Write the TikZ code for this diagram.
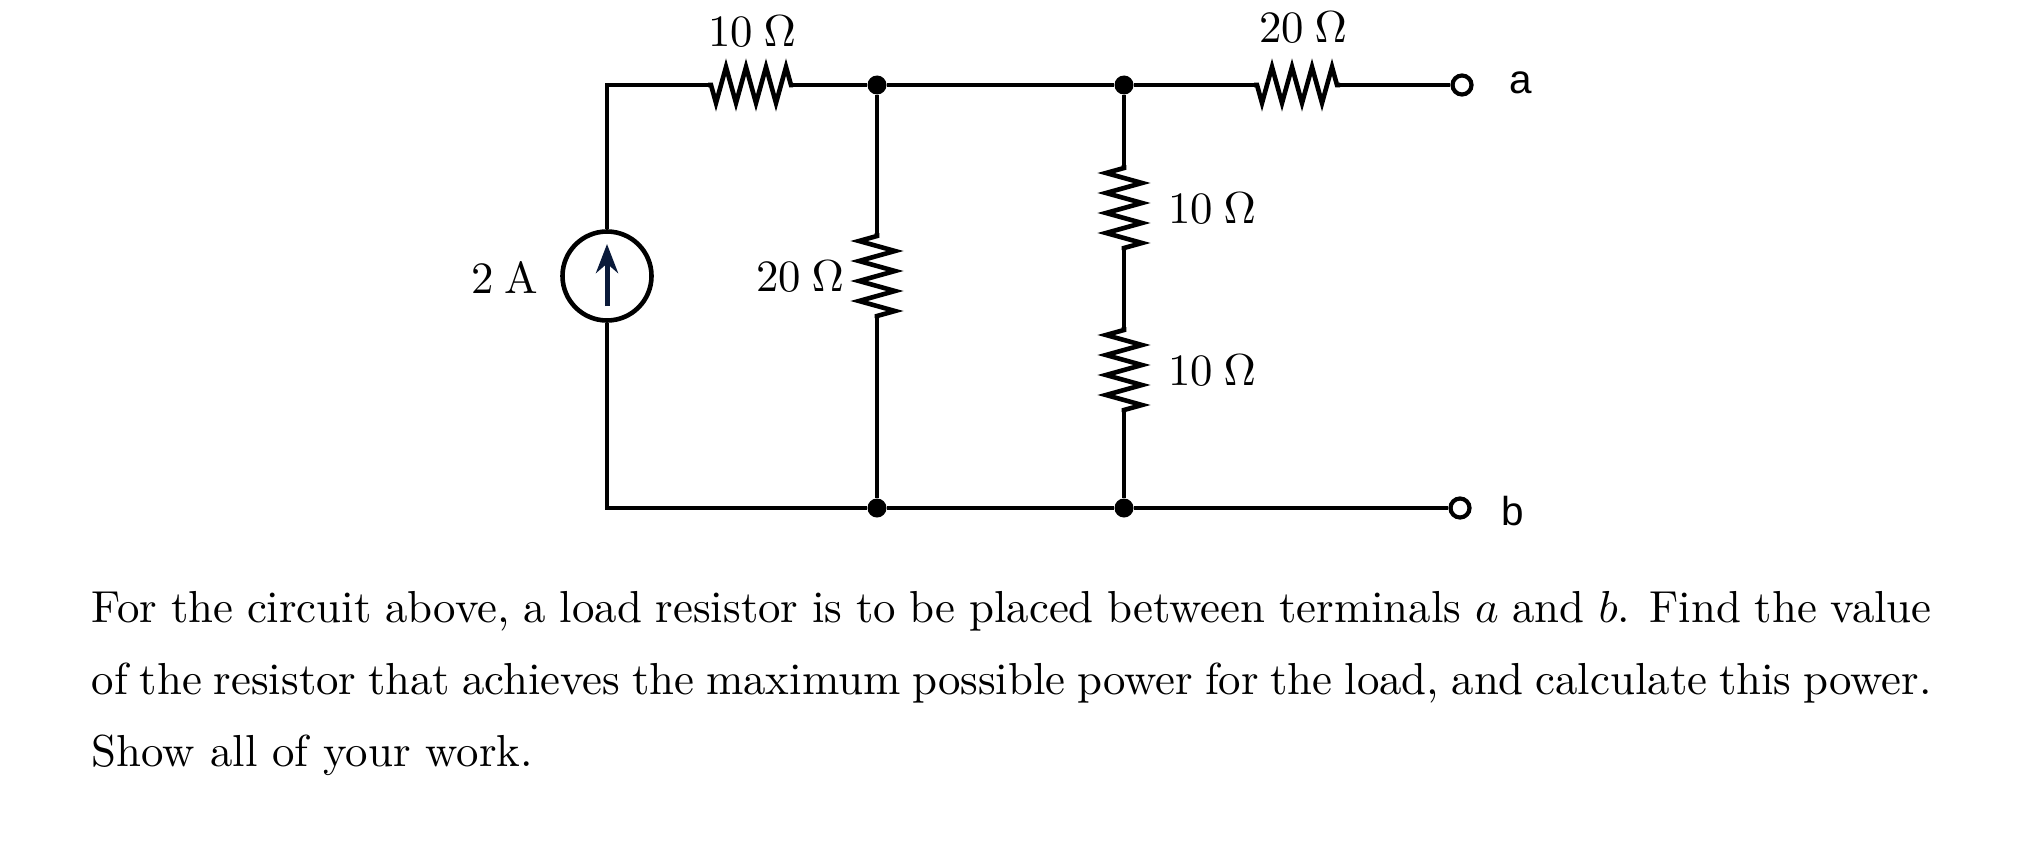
\documentclass[tikz,border=0pt]{standalone}
\usepackage[no-math]{fontspec}
\newfontfamily\terminalfont{Liberation Sans}
\usetikzlibrary{decorations.pathmorphing}
\usetikzlibrary{arrows.meta}
\definecolor{arrow_navy}{RGB}{10,26,58}
\newcommand{\problemline}[1]{\makebox[14.43cm][s]{#1}}
\newcommand{\valuegap}{\hspace{.24em}}
\tikzstyle{wire}=[line width=.046cm]
\tikzstyle{resistor}=[line width=.046cm, miter limit=10, decorate, decoration={zigzag, mirror, segment length=.2cm, amplitude=.18cm, pre length=.03cm, post length=.02cm}]
\tikzstyle{junction}=[circle, fill=black, inner sep=0pt, minimum size=.19cm]
\tikzstyle{terminal}=[circle, draw, fill=white, line width=.042cm, inner sep=0pt, minimum size=.19cm]
\tikzstyle{source}=[circle, draw, line width=.046cm, inner sep=0pt, minimum size=.89cm]
\tikzstyle{value_label}=[font=\fontsize{10}{12}\selectfont, inner sep=0pt, scale=1.275, transform shape]
\tikzstyle{terminal_label}=[font=\fontsize{11.5}{14}\selectfont\terminalfont, inner sep=0pt]
\tikzstyle{problem_line}=[font=\fontsize{10}{12}\selectfont, inner sep=0pt, anchor=base west, scale=1.275, transform shape]
\begin{document}
\begin{tikzpicture}
\useasboundingbox (0,0) rectangle (20.18,8.42);
\coordinate (top_left) at (6.07,7.57);
\coordinate (bottom_left) at (6.07,3.34);
\coordinate (r_1_in) at (7.08,7.57);
\coordinate (r_1_out) at (7.93,7.57);
\coordinate (r_2_in) at (8.77,6.09);
\coordinate (r_2_out) at (8.77,5.24);
\coordinate (r_3_in) at (11.24,6.77);
\coordinate (r_3_out) at (11.24,5.92);
\coordinate (r_4_in) at (11.24,5.15);
\coordinate (r_4_out) at (11.24,4.30);
\coordinate (r_5_in) at (12.54,7.57);
\coordinate (r_5_out) at (13.40,7.57);
\coordinate (arrow_tail) at (6.07,5.36);
\coordinate (arrow_tip) at (6.07,5.98);
\node (source) at (6.07,5.66) [style=source] {};
\node (top_1) at (8.77,7.57) [style=junction] {};
\node (top_2) at (11.24,7.57) [style=junction] {};
\node (bottom_1) at (8.77,3.34) [style=junction] {};
\node (bottom_2) at (11.24,3.34) [style=junction] {};
\node (terminal_a) at (14.62,7.57) [style=terminal] {};
\node (terminal_b) at (14.60,3.34) [style=terminal] {};
\node (source_label) at (5.05,5.65) [style=value_label] {2\valuegap A};
\node (r_1_label) at (7.52,8.10) [style=value_label] {10\valuegap$\Omega$};
\node (r_2_label) at (8.00,5.65) [style=value_label] {20\valuegap$\Omega$};
\node (r_3_label) at (12.12,6.33) [style=value_label] {10\valuegap$\Omega$};
\node (r_4_label) at (12.12,4.71) [style=value_label] {10\valuegap$\Omega$};
\node (r_5_label) at (13.03,8.14) [style=value_label] {20\valuegap$\Omega$};
\node (a_label) at (15.21,7.59) [style=terminal_label] {a};
\node (b_label) at (15.13,3.31) [style=terminal_label] {b};
\node (line_1) at (0.91,2.20) [style=problem_line] {\problemline{For the circuit above, a load resistor is to be placed between terminals $a$ and $b$. Find the value}};
\node (line_2) at (0.91,1.48) [style=problem_line] {\problemline{of the resistor that achieves the maximum possible power for the load, and calculate this power.}};
\node (line_3) at (0.91,0.76) [style=problem_line] {Show all of your work.};
\path (source.north) -- (top_left) -- (r_1_in) [draw, style=wire];
\path (r_1_out) -- (top_1) [draw, style=wire];
\path (top_1) -- (top_2) [draw, style=wire];
\path (top_2) -- (r_5_in) [draw, style=wire];
\path (r_5_out) -- (terminal_a) [draw, style=wire];
\path (source.south) -- (bottom_left) -- (bottom_1) [draw, style=wire];
\path (bottom_1) -- (bottom_2) [draw, style=wire];
\path (bottom_2) -- (terminal_b) [draw, style=wire];
\path (top_1) -- (r_2_in) [draw, style=wire];
\path (r_2_out) -- (bottom_1) [draw, style=wire];
\path (top_2) -- (r_3_in) [draw, style=wire];
\path (r_3_out) -- (r_4_in) [draw, style=wire];
\path (r_4_out) -- (bottom_2) [draw, style=wire];
\path (r_1_in) -- (r_1_out) [draw, style=resistor];
\path (r_2_in) -- (r_2_out) [draw, style=resistor];
\path (r_3_in) -- (r_3_out) [draw, style=resistor];
\path (r_4_in) -- (r_4_out) [draw, style=resistor];
\path (r_5_in) -- (r_5_out) [draw, style=resistor];
\path (arrow_tail) -- (arrow_tip) [draw, line width=.05cm, color=arrow_navy, -{Stealth[length=.29cm, width=.22cm]}];
\end{tikzpicture}
\end{document}
